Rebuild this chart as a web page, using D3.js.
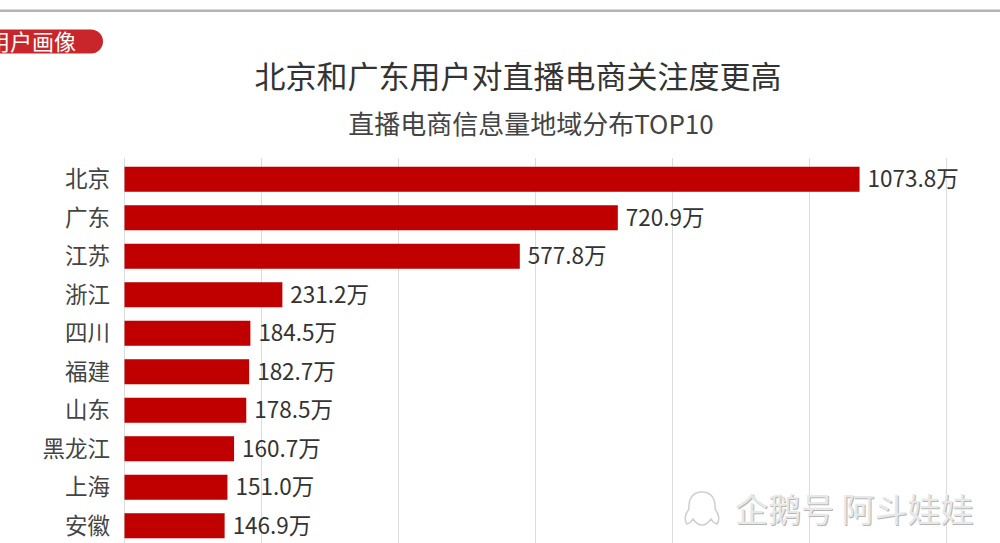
<!DOCTYPE html>
<html>
<head>
<meta charset="utf-8">
<script src="https://cdn.jsdelivr.net/npm/d3@7"></script>
<style>
  body { margin: 0; background: #fff; }
  svg { display: block; font-family: "Noto Sans CJK SC", "Noto Sans", sans-serif; }
</style>
</head>
<body>
<svg id="chart" width="1000" height="543"></svg>
<script>
// data
const regions = ['北京', '广东', '江苏', '浙江', '四川', '福建', '山东', '黑龙江', '上海', '安徽'];
const values = [1073.8, 720.9, 577.8, 231.2, 184.5, 182.7, 178.5, 160.7, 151.0, 146.9];
const ticks = [0, 200, 400, 600, 800, 1000, 1200];

const width = 1000, height = 543;
const svg = d3.select('#chart');

// top rule
svg.append('rect')
  .attr('x', 0).attr('y', 9.5)
  .attr('width', width).attr('height', 2.5)
  .attr('fill', '#b4b4b4');

// section badge, cut off at the left edge like the source
svg.append('rect')
  .attr('x', -20).attr('y', 29.5)
  .attr('width', 123).attr('height', 24)
  .attr('rx', 12)
  .attr('fill', '#c8262a');
svg.append('text')
  .attr('x', -12).attr('y', 50)
  .attr('fill', '#fff')
  .attr('font-size', 22)
  .text('用户画像');

// titles
svg.append('text')
  .attr('x', 518).attr('y', 88)
  .attr('text-anchor', 'middle')
  .attr('fill', '#333')
  .attr('font-size', 31)
  .text('北京和广东用户对直播电商关注度更高');
svg.append('text')
  .attr('x', 531).attr('y', 134)
  .attr('text-anchor', 'middle')
  .attr('fill', '#444')
  .attr('font-size', 26)
  .text('直播电商信息量地域分布TOP10');

// scales
const x = d3.scaleLinear().domain([0, 1200]).range([124, 946]);
const y = d3.scaleBand()
  .domain(regions)
  .range([160, 545])
  .paddingInner(0.35)
  .paddingOuter(0.175);

// gridlines via axis
const grid = svg.append('g')
  .attr('transform', `translate(0,${height})`)
  .call(d3.axisTop(x).tickValues(ticks).tickSize(385).tickFormat(''));
grid.select('.domain').remove();
grid.selectAll('.tick line').attr('stroke', '#dcdcdc').attr('stroke-width', 1);

// bars
svg.append('g').selectAll('rect')
  .data(values)
  .join('rect')
  .attr('x', x(0) + 0.5)
  .attr('y', (d, i) => y(regions[i]))
  .attr('width', d => x(d) - x(0) - 0.5)
  .attr('height', y.bandwidth())
  .attr('fill', '#c00000');

// category labels
svg.append('g').selectAll('text')
  .data(regions)
  .join('text')
  .attr('x', 110)
  .attr('y', d => y(d) + y.bandwidth() / 2)
  .attr('dy', '0.36em')
  .attr('text-anchor', 'end')
  .attr('fill', '#444')
  .attr('font-size', 22.5)
  .text(d => d);

// value labels
svg.append('g').selectAll('text')
  .data(values)
  .join('text')
  .attr('x', d => x(d) + 8)
  .attr('y', (d, i) => y(regions[i]) + y.bandwidth() / 2)
  .attr('dy', '0.36em')
  .attr('fill', '#333')
  .attr('font-size', 22.5)
  .text(d => d.toFixed(1) + '万');

// watermark
const wm = svg.append('g');
wm.append('path')
  .attr('d', 'M702,492 C692,492 688,500 689,509 C685,514 684,520 687,524 C690,523 692,521 693,519 C695,522 698,525 702,525 C706,525 709,522 711,519 C712,521 714,523 717,524 C720,520 719,514 715,509 C716,500 712,492 702,492 Z')
  .attr('fill', 'none')
  .attr('stroke', '#cfcfcf')
  .attr('stroke-width', 1.5);
wm.append('text')
  .attr('x', 736).attr('y', 523)
  .attr('fill', '#b5b5b5')
  .attr('font-size', 33)
  .text('企鹅号 阿斗娃娃');
wm.append('text')
  .attr('x', 735).attr('y', 522)
  .attr('fill', '#e8e8e8')
  .attr('font-size', 33)
  .text('企鹅号 阿斗娃娃');
</script>
</body>
</html>
